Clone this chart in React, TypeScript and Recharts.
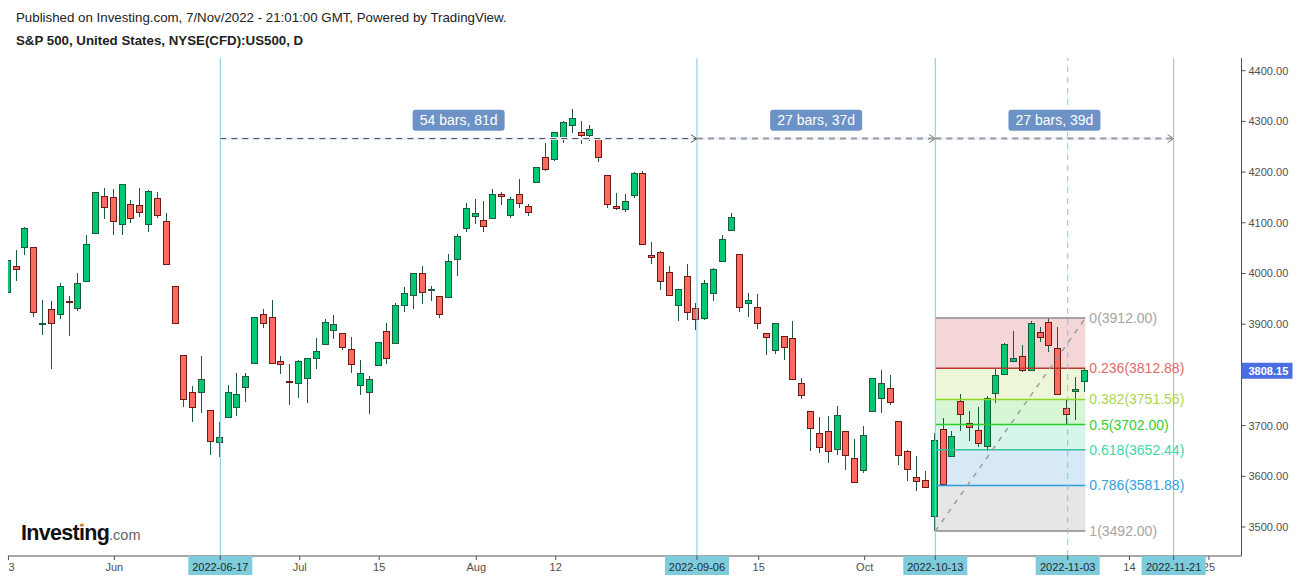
import { ComposedChart, Bar, XAxis, YAxis, ReferenceLine, ReferenceArea, ReferenceDot } from 'recharts';

const FONT = '"Liberation Sans", Arial, sans-serif';
const AXIS_COLOR = '#505050';

// daily S&P 500 candles
const opens = [
  3963, 4013, 4052, 4052, 3899, 3928, 3920, 3944, 3930, 3985, 4078, 4151, 4149, 4096, 4137, 4135, 4096, 4147, 4102, 3974,
  3838, 3765, 3765, 3729, 3666, 3716, 3735, 3775, 3822, 3920, 3913, 3826, 3787, 3783, 3792, 3832, 3859, 3888, 3881, 3851,
  3780, 3765, 3818, 3885, 3861, 3936, 3956, 3999, 3966, 3954, 3952, 4027, 4088, 4112, 4104, 4108, 4155, 4115, 4155, 4133,
  4180, 4228, 4224, 4269, 4291, 4279, 4273, 4265, 4194, 4133, 4127, 4153, 4198, 4035, 4041, 4001, 3936, 3995, 3930, 3911,
  3960, 4023, 4084, 4037, 3940, 3932, 3881, 3849, 3875, 3871, 3783, 3727, 3684, 3688, 3652, 3688, 3635, 3611, 3727, 3753,
  3773, 3708, 3649, 3597, 3591, 3520, 3692, 3639, 3747, 3704, 3690, 3658, 3763, 3800, 3826, 3836, 3808, 3883, 3903, 3853,
  3733, 3767, 3786,
];
const highs = [
  4025, 4047, 4091, 4052, 3947, 3945, 3982, 3956, 4000, 4075, 4159, 4169, 4167, 4176, 4144, 4169, 4165, 4161, 4120, 3974,
  3838, 3779, 3838, 3729, 3708, 3781, 3803, 3803, 3915, 3929, 3947, 3838, 3821, 3830, 3832, 3872, 3911, 3919, 3881, 3874,
  3830, 3797, 3863, 3903, 3941, 3974, 3999, 4014, 3976, 3954, 4039, 4078, 4140, 4146, 4142, 4167, 4161, 4151, 4186, 4137,
  4211, 4257, 4279, 4301, 4325, 4301, 4293, 4265, 4194, 4159, 4157, 4201, 4202, 4063, 4044, 4015, 3970, 4019, 3942, 3987,
  4011, 4076, 4119, 4037, 3962, 3960, 3881, 3901, 3877, 3907, 3793, 3727, 3716, 3718, 3738, 3688, 3673, 3700, 3792, 3809,
  3799, 3708, 3652, 3641, 3610, 3686, 3714, 3690, 3763, 3729, 3737, 3759, 3812, 3863, 3887, 3859, 3907, 3895, 3913, 3895,
  3751, 3796, 3814,
];
const lows = [
  3963, 3985, 4036, 3914, 3878, 3811, 3910, 3876, 3926, 3985, 4078, 4107, 4075, 4075, 4099, 4111, 4081, 4109, 4017, 3901,
  3736, 3707, 3725, 3642, 3638, 3716, 3719, 3746, 3822, 3892, 3822, 3801, 3740, 3754, 3744, 3811, 3859, 3870, 3849, 3803,
  3760, 3723, 3818, 3821, 3861, 3924, 3929, 3939, 3945, 3912, 3952, 3995, 4081, 4097, 4081, 4108, 4136, 4109, 4130, 4113,
  4178, 4202, 4222, 4258, 4278, 4255, 4262, 4219, 4130, 4125, 4121, 4148, 4058, 4018, 3967, 3956, 3906, 3908, 3888, 3908,
  3945, 4023, 4084, 3924, 3914, 3890, 3839, 3841, 3829, 3790, 3752, 3650, 3646, 3626, 3642, 3612, 3587, 3607, 3727, 3725,
  3740, 3622, 3591, 3571, 3578, 3492, 3584, 3639, 3689, 3669, 3658, 3650, 3744, 3800, 3825, 3805, 3808, 3864, 3845, 3761,
  3701, 3711, 3767,
];
const closes = [
  4025, 4007, 4088, 3924, 3901, 3901, 3974, 3942, 3980, 4058, 4159, 4131, 4102, 4176, 4108, 4121, 4161, 4115, 4017, 3901,
  3751, 3735, 3790, 3668, 3676, 3765, 3761, 3796, 3913, 3901, 3822, 3820, 3785, 3826, 3832, 3846, 3903, 3899, 3855, 3820,
  3802, 3790, 3863, 3832, 3936, 3960, 3999, 3962, 3968, 3920, 4023, 4072, 4129, 4119, 4092, 4155, 4151, 4145, 4139, 4121,
  4210, 4206, 4279, 4297, 4305, 4273, 4283, 4228, 4137, 4129, 4141, 4198, 4058, 4031, 3985, 3956, 3968, 3924, 3909, 3980,
  4007, 4068, 4110, 3932, 3946, 3901, 3873, 3901, 3855, 3790, 3759, 3694, 3656, 3649, 3719, 3641, 3587, 3680, 3792, 3784,
  3745, 3641, 3613, 3589, 3578, 3670, 3584, 3678, 3721, 3696, 3665, 3753, 3798, 3859, 3832, 3808, 3901, 3873, 3857, 3761,
  3721, 3771, 3808,
];

// 3800 sits behind the last price tag in the reference
const priceTicks = [3500, 3600, 3700, 3900, 4000, 4100, 4200, 4300, 4400];
const lastPrice = 3808.15;

const plainTickBars = [0, 12, 33, 42, 53, 62, 85, 97, 127, 136];
const plainTickLabels = ['3', 'Jun', 'Jul', '15', 'Aug', '12', '15', 'Oct', '14', '25'];
const markerBars = [24, 78, 105, 132];
const markerDates = ['2022-06-17', '2022-09-06', '2022-10-13', '2022-11-21'];
const cursorBar = 120;
const cursorDate = '2022-11-03';

const rangeStarts = [24, 78, 105];
const rangeEnds = [78, 105, 132];
const rangeLabels = ['54 bars, 81d', '27 bars, 37d', '27 bars, 39d'];
const rangeArrowPrice = 4266;
const rangeLabelPrice = 4302;

const fibStartBar = 105;
const fibEndBar = 122;
const fibRatios = ['0', '0.236', '0.382', '0.5', '0.618', '0.786', '1'];
const fibPrices = [3912, 3812.88, 3751.56, 3702, 3652.44, 3581.88, 3492];

const fibLineColors = ['#8a8a8a', '#b8392f', '#8fd926', '#26d026', '#35c0a0', '#2a9ce0', '#8a8a8a'];
const fibTextColors = ['#a5a5a5', '#e26a6a', '#a9d84e', '#34cf34', '#3fd6a8', '#35a0de', '#a5a5a5'];
const fibZoneColors = ['#f5d6d6', '#edf6d8', '#d6f6d6', '#d6f6ec', '#d6e9f5', '#e6e6e6'];

const candles = opens.map((open, i) => ({
  bar: i,
  open,
  high: highs[i],
  low: lows[i],
  close: closes[i],
}));

const tickLabelByBar: Record<number, string> = {};
plainTickBars.forEach((b, i) => { tickLabelByBar[b] = plainTickLabels[i]; });
const tagByBar: Record<number, string> = { [cursorBar]: cursorDate };
markerBars.forEach((b, i) => { tagByBar[b] = markerDates[i]; });

const snap = (v: number) => Math.round(v - 0.5) + 0.5;

const Candle = ({ x, y, width, height, payload }: any) => {
  const { open, high, low, close } = payload;
  const up = close >= open;
  const unit = height / (high - low);
  const cx = Math.floor(x + width / 2 - 1.2) + 0.5;
  const top = snap(y + (high - Math.max(open, close)) * unit);
  const bottom = snap(y + (high - Math.min(open, close)) * unit);
  return (
    <g>
      <line x1={cx} x2={cx} y1={Math.round(y)} y2={Math.round(y + height)} stroke="#1c5a3e" strokeWidth={1} />
      <rect
        x={cx - 3}
        y={top}
        width={6}
        height={Math.max(bottom - top, 1)}
        fill={up ? '#00c974' : '#ff6a60'}
        stroke={up ? '#1c5a3e' : '#6e1a14'}
        strokeWidth={1}
      />
    </g>
  );
};

const BottomTick = ({ x, payload }: any) => {
  const value = payload.value;
  const tag = tagByBar[value];
  if (tag) {
    return (
      <g>
        <rect x={x - 32} y={556} width={64} height={19} fill="#7ecbdc" />
        <line x1={x} x2={x} y1={556} y2={560} stroke={AXIS_COLOR} />
        <text x={x} y={571} textAnchor="middle" fontSize={11} fontFamily={FONT} fill="#1f2a30">{tag}</text>
      </g>
    );
  }
  const first = value === plainTickBars[0];
  return (
    <text x={x} y={571} textAnchor={first ? 'start' : 'middle'} fontSize={11} fontFamily={FONT} fill={AXIS_COLOR}>
      {tickLabelByBar[value]}
    </text>
  );
};

const PriceTick = ({ x, y, payload }: any) => {
  if (payload.value === lastPrice) {
    return (
      <g>
        <rect x={x - 7} y={y - 8} width={51} height={16} fill="#4b6fe3" />
        <text x={x} y={y + 4} fontSize={11} fontWeight="bold" fontFamily={FONT} fill="#fff">{lastPrice.toFixed(2)}</text>
      </g>
    );
  }
  return (
    <text x={x} y={y + 4} fontSize={11} fontFamily={FONT} fill={AXIS_COLOR}>{payload.value.toFixed(2)}</text>
  );
};

const ArrowHead = ({ cx, cy, color }: any) => (
  <path d={`M${cx - 6} ${cy - 4} L${cx} ${cy} L${cx - 6} ${cy + 4}`} fill="none" stroke={color} strokeWidth={1} />
);

const RangeBadge = ({ cx, cy, text }: any) => (
  <g>
    <rect x={cx - 46} y={cy - 10.5} width={92} height={21} rx={3} fill="#6d92c6" />
    <text x={cx} y={cy + 5} textAnchor="middle" fontSize={14} fontFamily={FONT} fill="#fff">{text}</text>
  </g>
);

const FibText = ({ cx, cy, text, color }: any) => (
  <text x={cx + 4} y={cy + 5} fontSize={14} fontFamily={FONT} fill={color}>{text}</text>
);

const rangeLine = (from: number, to: number, i: number) => {
  const color = i === 0 ? '#444444' : '#9a9a9a';
  return [
    <ReferenceLine key={`halo-${i}`} segment={[{ x: from, y: rangeArrowPrice }, { x: to, y: rangeArrowPrice }]} stroke="#eef4fd" strokeWidth={3} />,
    <ReferenceLine key={`dash-${i}`} segment={[{ x: from, y: rangeArrowPrice }, { x: to, y: rangeArrowPrice }]} stroke={color} strokeWidth={i === 0 ? 1 : 2} strokeDasharray="6 5" />,
    <ReferenceDot key={`head-${i}`} x={to} y={rangeArrowPrice} shape={<ArrowHead color={i === 0 ? '#555555' : '#777777'} />} />,
  ];
};

export default function App() {
  return (
    <div style={{ position: 'absolute', left: 0, top: 0, width: 1299, height: 580, background: '#fff', fontFamily: FONT }}>
      <div style={{ position: 'absolute', left: 16, top: 9.5, fontSize: 13.3, color: '#222', whiteSpace: 'nowrap' }}>
        Published on Investing.com, 7/Nov/2022 - 21:01:00 GMT, Powered by TradingView.
      </div>
      <div style={{ position: 'absolute', left: 16, top: 32.5, fontSize: 13.3, fontWeight: 'bold', color: '#222', whiteSpace: 'nowrap' }}>
        S&amp;P 500, United States, NYSE(CFD):US500, D
      </div>
      <ComposedChart
        width={1299}
        height={580}
        data={candles}
        margin={{ top: 58, right: 0, bottom: 0, left: 8 }}
      >
        {fibZoneColors.map((fill, i) => (
          <ReferenceArea
            key={`zone-${i}`}
            x1={fibStartBar}
            x2={fibEndBar}
            y1={fibPrices[i + 1]}
            y2={fibPrices[i]}
            fill={fill}
            fillOpacity={1}
            stroke="none"
          />
        ))}
        {fibPrices.map((price, i) => (
          <ReferenceLine
            key={`fib-${i}`}
            segment={[{ x: fibStartBar, y: price }, { x: fibEndBar, y: price }]}
            stroke={fibLineColors[i]}
            strokeWidth={1.5}
          />
        ))}
        <ReferenceLine
          segment={[{ x: fibStartBar, y: fibPrices[6] }, { x: fibEndBar, y: fibPrices[0] }]}
          stroke="#9c9c9c"
          strokeWidth={1.5}
          strokeDasharray="5 6"
        />
        {markerBars.map((b) => (
          <ReferenceLine key={`marker-${b}`} x={b} stroke="#7ecbdc" strokeWidth={1} />
        ))}
        <ReferenceLine x={cursorBar} stroke="#8cc6d2" strokeWidth={1} strokeDasharray="6 5" />
        {rangeStarts.map((from, i) => rangeLine(from, rangeEnds[i], i))}

        <XAxis
          dataKey="bar"
          type="number"
          domain={[-0.05, 139.69]}
          allowDataOverflow
          ticks={[...plainTickBars, ...markerBars, cursorBar]}
          interval={0}
          height={24}
          tick={<BottomTick />}
          tickSize={4}
          tickLine={{ stroke: AXIS_COLOR }}
          axisLine={{ stroke: AXIS_COLOR }}
        />
        <YAxis
          orientation="right"
          type="number"
          domain={[3442.8, 4425]}
          allowDataOverflow
          ticks={[...priceTicks, lastPrice]}
          interval={0}
          width={57.5}
          tick={<PriceTick />}
          tickSize={4}
          tickMargin={3}
          tickLine={{ stroke: AXIS_COLOR }}
          axisLine={{ stroke: AXIS_COLOR }}
        />

        <Bar
          dataKey={(d: any) => [d.low, d.high]}
          barSize={7}
          shape={<Candle />}
          isAnimationActive={false}
        />

        {rangeLabels.map((text, i) => (
          <ReferenceDot
            key={text}
            x={(rangeStarts[i] + rangeEnds[i]) / 2}
            y={rangeLabelPrice}
            shape={<RangeBadge text={text} />}
          />
        ))}
        {fibPrices.map((price, i) => (
          <ReferenceDot
            key={`fib-text-${i}`}
            x={fibEndBar}
            y={price}
            shape={<FibText text={`${fibRatios[i]}(${price.toFixed(2)})`} color={fibTextColors[i]} />}
          />
        ))}
      </ComposedChart>
      <div style={{ position: 'absolute', left: 21, top: 520, whiteSpace: 'nowrap', lineHeight: '26px' }}>
        <span style={{ fontSize: 21.5, fontWeight: 'bold', letterSpacing: -0.7, color: '#111' }}>Investing</span>
        <span style={{ fontSize: 14.5, color: '#666' }}>.com</span>
      </div>
      <div style={{ position: 'absolute', left: 81, top: 523, width: 3, height: 3, borderRadius: 2, background: '#f5a623' }} />
    </div>
  );
}
